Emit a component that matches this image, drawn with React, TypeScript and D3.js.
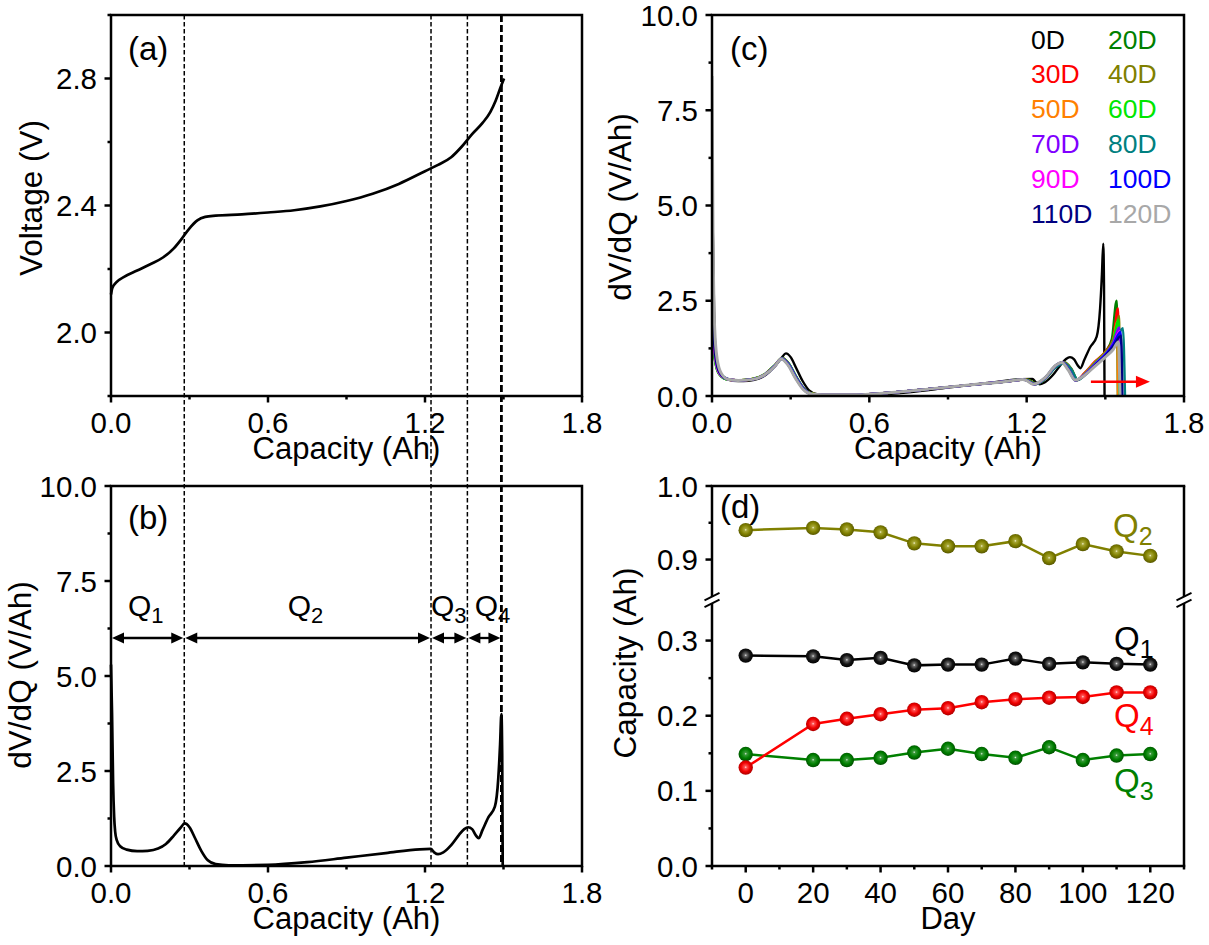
import React from 'react';
import * as d3 from 'd3';

const FONT = "'Liberation Sans', Arial, Helvetica, sans-serif";

// ---------- Panel (a): voltage curve ----------
const capA = [0, 0.005, 0.02, 0.05, 0.1, 0.15, 0.2, 0.24, 0.27, 0.3, 0.33, 0.36, 0.4, 0.5, 0.6, 0.7, 0.8, 0.9, 1.0, 1.1, 1.2, 1.25, 1.3, 1.34, 1.38, 1.42, 1.45, 1.47, 1.49, 1.502];
const voltA = [2.12, 2.14, 2.158, 2.175, 2.195, 2.215, 2.237, 2.265, 2.295, 2.328, 2.353, 2.364, 2.368, 2.372, 2.378, 2.385, 2.397, 2.414, 2.437, 2.468, 2.508, 2.528, 2.552, 2.585, 2.625, 2.66, 2.695, 2.73, 2.775, 2.8];

// ---------- dV/dQ curves (b) & (c) ----------
const d0D = [[0,5.3],[0.004,4.0],[0.008,2.2],[0.012,1.3],[0.016,0.9],[0.022,0.68],[0.035,0.52],[0.06,0.43],[0.1,0.39],[0.14,0.4],[0.18,0.46],[0.21,0.58],[0.24,0.8],[0.265,1.0],[0.282,1.12],[0.3,1.02],[0.32,0.75],[0.345,0.4],[0.37,0.15],[0.4,0.05],[0.45,0.02],[0.6,0.03],[0.75,0.1],[0.9,0.22],[1.05,0.34],[1.18,0.44],[1.222,0.45],[1.235,0.36],[1.25,0.31],[1.27,0.36],[1.3,0.55],[1.33,0.82],[1.35,0.97],[1.365,1.02],[1.38,0.97],[1.395,0.8],[1.405,0.73],[1.42,0.95],[1.442,1.28],[1.467,1.56],[1.48,2.3],[1.487,3.2],[1.492,4.0],[1.495,2.9],[1.497,0]];
const d20D = [[0,1.9],[0.006,1.25],[0.015,0.8],[0.03,0.55],[0.06,0.43],[0.1,0.41],[0.15,0.44],[0.2,0.57],[0.24,0.82],[0.268,1.0],[0.29,0.88],[0.32,0.52],[0.35,0.2],[0.38,0.06],[0.42,0.03],[0.55,0.03],[0.7,0.1],[0.85,0.2],[1.0,0.3],[1.12,0.38],[1.195,0.44],[1.21,0.42],[1.238,0.32],[1.27,0.45],[1.31,0.76],[1.345,0.88],[1.37,0.72],[1.395,0.42],[1.42,0.58],[1.46,0.88],[1.5,1.15],[1.525,1.5],[1.543,2.5],[1.548,0]];
const d30D = [[0,2.4],[0.006,1.5],[0.015,0.9],[0.03,0.58],[0.06,0.44],[0.1,0.41],[0.15,0.44],[0.2,0.56],[0.24,0.8],[0.267,0.99],[0.29,0.86],[0.32,0.5],[0.35,0.19],[0.38,0.06],[0.42,0.03],[0.55,0.03],[0.7,0.1],[0.85,0.2],[1.0,0.3],[1.12,0.38],[1.19,0.43],[1.205,0.42],[1.235,0.32],[1.27,0.46],[1.31,0.77],[1.342,0.88],[1.368,0.72],[1.393,0.42],[1.42,0.6],[1.46,0.9],[1.5,1.16],[1.53,1.5],[1.548,2.3],[1.552,0]];
const d40D = [[0,2.2],[0.006,1.4],[0.015,0.85],[0.03,0.56],[0.06,0.44],[0.1,0.41],[0.15,0.44],[0.2,0.56],[0.24,0.8],[0.268,0.99],[0.29,0.87],[0.32,0.51],[0.35,0.2],[0.38,0.06],[0.42,0.03],[0.55,0.03],[0.7,0.1],[0.85,0.2],[1.0,0.3],[1.12,0.38],[1.19,0.43],[1.205,0.42],[1.235,0.32],[1.27,0.45],[1.31,0.76],[1.342,0.87],[1.368,0.72],[1.392,0.42],[1.42,0.58],[1.46,0.88],[1.5,1.15],[1.53,1.45],[1.552,2.1],[1.556,0]];
const d50D = [[0,2.1],[0.006,1.35],[0.015,0.85],[0.03,0.57],[0.06,0.44],[0.1,0.4],[0.15,0.43],[0.2,0.56],[0.24,0.8],[0.267,0.99],[0.29,0.86],[0.32,0.5],[0.35,0.19],[0.38,0.06],[0.42,0.03],[0.55,0.03],[0.7,0.1],[0.85,0.2],[1.0,0.3],[1.12,0.38],[1.19,0.43],[1.205,0.41],[1.233,0.31],[1.27,0.46],[1.31,0.77],[1.34,0.87],[1.366,0.71],[1.39,0.42],[1.42,0.58],[1.46,0.87],[1.5,1.13],[1.53,1.45],[1.545,1.95],[1.548,0]];
const d60D = [[0,1.8],[0.006,1.2],[0.015,0.8],[0.03,0.55],[0.06,0.43],[0.1,0.41],[0.15,0.44],[0.2,0.56],[0.24,0.8],[0.267,0.99],[0.29,0.86],[0.32,0.5],[0.35,0.19],[0.38,0.06],[0.42,0.03],[0.55,0.03],[0.7,0.1],[0.85,0.2],[1.0,0.3],[1.12,0.38],[1.19,0.43],[1.205,0.41],[1.232,0.31],[1.27,0.45],[1.31,0.77],[1.34,0.88],[1.365,0.71],[1.39,0.41],[1.42,0.57],[1.46,0.86],[1.5,1.12],[1.53,1.45],[1.55,2.0],[1.554,0]];
const d70D = [[0,2.6],[0.006,1.55],[0.015,0.9],[0.03,0.58],[0.06,0.44],[0.1,0.41],[0.15,0.43],[0.2,0.55],[0.24,0.79],[0.266,0.98],[0.29,0.84],[0.32,0.48],[0.35,0.18],[0.38,0.05],[0.42,0.03],[0.55,0.03],[0.7,0.1],[0.85,0.2],[1.0,0.3],[1.12,0.38],[1.188,0.43],[1.2,0.41],[1.23,0.31],[1.27,0.47],[1.31,0.78],[1.338,0.88],[1.363,0.7],[1.388,0.41],[1.42,0.56],[1.46,0.84],[1.5,1.1],[1.53,1.4],[1.553,1.8],[1.557,0]];
const d80D = [[0,3.3],[0.007,1.9],[0.016,1.05],[0.03,0.62],[0.06,0.45],[0.1,0.41],[0.15,0.43],[0.2,0.55],[0.24,0.79],[0.268,0.98],[0.292,0.85],[0.322,0.49],[0.352,0.18],[0.382,0.05],[0.42,0.03],[0.55,0.03],[0.7,0.1],[0.85,0.2],[1.0,0.3],[1.12,0.38],[1.19,0.43],[1.205,0.41],[1.235,0.31],[1.27,0.45],[1.31,0.75],[1.342,0.86],[1.368,0.72],[1.395,0.42],[1.43,0.6],[1.47,0.88],[1.51,1.15],[1.54,1.42],[1.567,1.78],[1.575,0]];
const d90D = [[0,2.6],[0.006,1.5],[0.015,0.88],[0.03,0.57],[0.06,0.44],[0.1,0.41],[0.15,0.43],[0.2,0.55],[0.24,0.79],[0.266,0.98],[0.29,0.84],[0.32,0.48],[0.35,0.18],[0.38,0.05],[0.42,0.03],[0.55,0.03],[0.7,0.1],[0.85,0.2],[1.0,0.3],[1.12,0.38],[1.188,0.43],[1.2,0.41],[1.23,0.31],[1.27,0.47],[1.31,0.79],[1.336,0.89],[1.36,0.7],[1.386,0.41],[1.42,0.55],[1.46,0.82],[1.5,1.08],[1.53,1.35],[1.555,1.7],[1.56,0]];
const d100D = [[0,4.6],[0.005,2.4],[0.012,1.2],[0.025,0.68],[0.05,0.47],[0.09,0.41],[0.15,0.43],[0.2,0.55],[0.24,0.79],[0.266,0.98],[0.29,0.84],[0.32,0.48],[0.35,0.18],[0.38,0.05],[0.42,0.03],[0.55,0.03],[0.7,0.1],[0.85,0.2],[1.0,0.3],[1.12,0.38],[1.188,0.43],[1.2,0.41],[1.23,0.31],[1.27,0.47],[1.31,0.79],[1.336,0.88],[1.36,0.7],[1.386,0.41],[1.42,0.55],[1.46,0.82],[1.5,1.08],[1.53,1.35],[1.558,1.68],[1.562,0]];
const d110D = [[0,3.0],[0.006,1.7],[0.015,0.95],[0.03,0.6],[0.06,0.44],[0.1,0.41],[0.15,0.43],[0.2,0.55],[0.24,0.78],[0.265,0.97],[0.288,0.84],[0.318,0.48],[0.348,0.18],[0.378,0.05],[0.42,0.03],[0.55,0.03],[0.7,0.1],[0.85,0.2],[1.0,0.3],[1.12,0.38],[1.186,0.43],[1.2,0.41],[1.228,0.31],[1.27,0.48],[1.31,0.8],[1.335,0.88],[1.36,0.69],[1.385,0.41],[1.42,0.54],[1.46,0.8],[1.5,1.05],[1.53,1.3],[1.56,1.58],[1.565,0]];
const d120D = [[0,8.4],[0.004,4.2],[0.01,1.8],[0.02,0.95],[0.035,0.6],[0.06,0.44],[0.1,0.41],[0.15,0.43],[0.2,0.55],[0.24,0.78],[0.264,0.97],[0.288,0.83],[0.318,0.47],[0.348,0.17],[0.378,0.05],[0.42,0.03],[0.55,0.03],[0.7,0.1],[0.85,0.2],[1.0,0.3],[1.12,0.38],[1.185,0.43],[1.198,0.41],[1.226,0.31],[1.27,0.48],[1.31,0.8],[1.334,0.88],[1.358,0.69],[1.385,0.42],[1.42,0.54],[1.46,0.78],[1.5,1.02],[1.53,1.22],[1.55,1.42],[1.556,0]];

const seriesNames = ['0D', '20D', '30D', '40D', '50D', '60D', '70D', '80D', '90D', '100D', '110D', '120D'];
const seriesColors = ['#000000', '#008000', '#FF0000', '#808000', '#FF8000', '#00E600', '#8000FF', '#008080', '#FF00FF', '#0000FF', '#000080', '#A8A8A8'];
const seriesData = [d0D, d20D, d30D, d40D, d50D, d60D, d70D, d80D, d90D, d100D, d110D, d120D];

// Q-region boundaries (Ah) and arrow level (V/Ah)
const qBounds = [0, 0.28, 1.223, 1.362, 1.492];
const qArrowLevel = 6.0;
const qLabels = ['1', '2', '3', '4'];
const qLabelCaps = [0.065, 0.675, 1.223, 1.39];

// Red shift arrow in (c)
const shiftArrow = { from: 1.445, to: 1.67, level: 0.375 };

// ---------- Panel (d) ----------
const days = [0, 20, 30, 40, 50, 60, 70, 80, 90, 100, 110, 120];
const q1 = [0.280, 0.279, 0.274, 0.277, 0.267, 0.268, 0.268, 0.276, 0.269, 0.271, 0.269, 0.268];
const q2 = [0.940, 0.943, 0.941, 0.937, 0.922, 0.918, 0.918, 0.925, 0.902, 0.921, 0.911, 0.905];
const q3 = [0.149, 0.141, 0.141, 0.144, 0.151, 0.156, 0.149, 0.144, 0.158, 0.141, 0.147, 0.149];
const q4 = [0.131, 0.189, 0.196, 0.202, 0.208, 0.210, 0.218, 0.222, 0.224, 0.225, 0.231, 0.231];

// ---------- ticks ----------
const capMajor = [0, 0.6, 1.2, 1.8];
const capMinor = [0.3, 0.9, 1.5];
const voltMajor = [2.0, 2.4, 2.8];
const voltMinor = [1.8, 2.2, 2.6, 3.0];
const dvdqMajor = [0, 2.5, 5, 7.5, 10];
const dvdqMinor = [1.25, 3.75, 6.25, 8.75];
const dayMajor = [0, 20, 40, 60, 80, 100, 120];
const dayMinor = [-10, 10, 30, 50, 70, 90, 110, 130];
const capDLowMajor = [0, 0.1, 0.2, 0.3];
const capDLowMinor = [0.05, 0.15, 0.25];
const capDUpMajor = [0.9, 1.0];
const capDUpMinor = [0.95];

// ---------- layout ----------
const PA = { x0: 111, x1: 582, y0: 15, y1: 396 };
const PB = { x0: 111, x1: 582, y0: 486, y1: 866 };
const PC = { x0: 712, x1: 1184, y0: 15, y1: 396 };
const PD = { x0: 712, x1: 1184, y0: 486, y1: 866 };
const YBREAK = 600;

const xA = d3.scaleLinear().domain([0, 1.8]).range([PA.x0, PA.x1]);
const yA = d3.scaleLinear().domain([1.8, 3.0]).range([PA.y1, PA.y0]);
const yB = d3.scaleLinear().domain([0, 10]).range([PB.y1, PB.y0]);
const xC = d3.scaleLinear().domain([0, 1.8]).range([PC.x0, PC.x1]);
const yC = d3.scaleLinear().domain([0, 10]).range([PC.y1, PC.y0]);
const xD = d3.scaleLinear().domain([-10, 130]).range([PD.x0, PD.x1]);
const yDlow = d3.scaleLinear().domain([0, 0.354]).range([PD.y1, YBREAK]);
const yDup = d3.scaleLinear().domain([0.845, 1.0]).range([YBREAK, PD.y0]);

const TICK_MAJ = 6.5, TICK_MIN = 3.5, AXW = 2.5;
const TICKFS = 29.5, TITLEFS = 31;
const f1 = d3.format('.1f');

function XAxis({ scale, major, minor, y, fmt }: any) {
  return (
    <g>
      {major.map((v: number) => (
        <g key={'M' + v}>
          <line x1={scale(v)} x2={scale(v)} y1={y} y2={y + TICK_MAJ} stroke="#000" strokeWidth={AXW} />
          <text x={scale(v)} y={y + 36.5} textAnchor="middle" fontSize={TICKFS} fontFamily={FONT}>{fmt(v)}</text>
        </g>
      ))}
      {minor.map((v: number) => (
        <line key={'m' + v} x1={scale(v)} x2={scale(v)} y1={y} y2={y + TICK_MIN} stroke="#000" strokeWidth={AXW} />
      ))}
    </g>
  );
}

function YAxis({ scale, major, minor, x, fmt }: any) {
  return (
    <g>
      {major.map((v: number) => (
        <g key={'M' + v}>
          <line x1={x} x2={x - TICK_MAJ} y1={scale(v)} y2={scale(v)} stroke="#000" strokeWidth={AXW} />
          <text x={x - 14} y={scale(v) + 10.6} textAnchor="end" fontSize={TICKFS} fontFamily={FONT}>{fmt(v)}</text>
        </g>
      ))}
      {minor.map((v: number) => (
        <line key={'m' + v} x1={x} x2={x - TICK_MIN} y1={scale(v)} y2={scale(v)} stroke="#000" strokeWidth={AXW} />
      ))}
    </g>
  );
}

function Frame({ p }: any) {
  return <rect x={p.x0} y={p.y0} width={p.x1 - p.x0} height={p.y1 - p.y0} fill="none" stroke="#000" strokeWidth={AXW} />;
}

function YTitle({ x, y, children }: any) {
  return (
    <text transform={`translate(${x},${y}) rotate(-90)`} textAnchor="middle" fontSize={TITLEFS + 0.5} fontFamily={FONT}>{children}</text>
  );
}

function XTitle({ x, y, children }: any) {
  return <text x={x} y={y} textAnchor="middle" fontSize={TITLEFS} fontFamily={FONT}>{children}</text>;
}

function PanelLabel({ x, y, children }: any) {
  return <text x={x} y={y} fontSize={33} fontFamily={FONT}>{children}</text>;
}

function QLabel({ x, y, sub, size, subSize, fill, anchor }: any) {
  return (
    <text x={x} y={y} fontSize={size} fontFamily={FONT} fill={fill} textAnchor={anchor || 'start'}>
      Q<tspan fontSize={subSize} dy={size * 0.24}>{sub}</tspan>
    </text>
  );
}

function arrowHead(tipX: number, tipY: number, dir: number, len: number, half: number) {
  return `M${tipX},${tipY} L${tipX - dir * len},${tipY - half} L${tipX - dir * len},${tipY + half} Z`;
}

function BreakMarks({ x, y }: any) {
  const dx = 7.5, dy = 3.8, off = 3.4;
  return (
    <g stroke="#000" strokeWidth={2}>
      <line x1={x - dx} y1={y - off + dy} x2={x + dx} y2={y - off - dy} />
      <line x1={x - dx} y1={y + off + dy} x2={x + dx} y2={y + off - dy} />
    </g>
  );
}

const gradientDefs = [
  { id: 'gBlack', stops: ['#e8e8e8', '#6a6a6a', '#151515', '#000000'] },
  { id: 'gOlive', stops: ['#f6f6d8', '#a8a838', '#808000', '#555500'] },
  { id: 'gRed', stops: ['#ffe0e0', '#ff5050', '#f00000', '#a80000'] },
  { id: 'gGreen', stops: ['#e0f4e0', '#3a9a3a', '#008000', '#004c00'] },
];

export default function App() {
  const lineA = d3.line<number>().x((_, i) => xA(capA[i])).y((v) => yA(v)).curve(d3.curveMonotoneX);
  const lineB = d3.line<number[]>().x((d) => xA(d[0])).y((d) => yB(d[1])).curve(d3.curveMonotoneX);
  const lineC = d3.line<number[]>().x((d) => xC(d[0])).y((d) => yC(d[1])).curve(d3.curveMonotoneX);
  const lineDlow = (vals: number[]) => d3.line<number>().x((_, i) => xD(days[i])).y((v) => yDlow(v))(vals) as string;
  const lineDup = (vals: number[]) => d3.line<number>().x((_, i) => xD(days[i])).y((v) => yDup(v))(vals) as string;

  const dSeries = [
    { vals: q2, color: '#808000', grad: 'gOlive', up: true },
    { vals: q1, color: '#000000', grad: 'gBlack', up: false },
    { vals: q3, color: '#008000', grad: 'gGreen', up: false },
    { vals: q4, color: '#FF0000', grad: 'gRed', up: false },
  ];

  const arrowY = yB(qArrowLevel);
  const legendRows = [49, 83, 118, 153, 188, 223];

  return (
    <svg width={1209} height={945} style={{ position: 'absolute', left: 0, top: 0, background: '#fff' }}>
      <defs>
        {gradientDefs.map((g) => (
          <radialGradient key={g.id} id={g.id} cx="48%" cy="46%" r="55%" fx="50%" fy="48%">
            <stop offset="0%" stopColor={g.stops[0]} />
            <stop offset="16%" stopColor={g.stops[1]} />
            <stop offset="58%" stopColor={g.stops[2]} />
            <stop offset="100%" stopColor={g.stops[3]} />
          </radialGradient>
        ))}
        <clipPath id="clipC"><rect x={PC.x0} y={PC.y0} width={PC.x1 - PC.x0} height={PC.y1 - PC.y0} /></clipPath>
      </defs>
      <rect x={0} y={0} width={1209} height={945} fill="#fff" />

      {/* ---------- Panel (a) ---------- */}
      <path d={lineA(voltA) as string} fill="none" stroke="#000" strokeWidth={2.7} />
      <XAxis scale={xA} major={capMajor} minor={capMinor} y={PA.y1} fmt={f1} />
      <YAxis scale={yA} major={voltMajor} minor={voltMinor} x={PA.x0} fmt={f1} />
      <Frame p={PA} />
      <PanelLabel x={128} y={60}>(a)</PanelLabel>
      <YTitle x={42} y={198}>Voltage (V)</YTitle>
      <XTitle x={(PA.x0 + PA.x1) / 2} y={PA.y1 + 63}>Capacity (Ah)</XTitle>

      {/* ---------- Panel (b) ---------- */}
      <path d={lineB(d0D) as string} fill="none" stroke="#000" strokeWidth={2.7} />
      <XAxis scale={xA} major={capMajor} minor={capMinor} y={PB.y1} fmt={f1} />
      <YAxis scale={yB} major={dvdqMajor} minor={dvdqMinor} x={PB.x0} fmt={f1} />
      <Frame p={PB} />
      <PanelLabel x={128} y={529}>(b)</PanelLabel>
      <YTitle x={31} y={675}>dV/dQ (V/Ah)</YTitle>
      <XTitle x={(PB.x0 + PB.x1) / 2} y={PB.y1 + 63}>Capacity (Ah)</XTitle>

      {/* boundary dashed lines spanning (a) and (b) */}
      {qBounds.slice(1).map((q, i) => {
        const last = i === qBounds.length - 2;
        return (
          <line key={'dash' + q} x1={xA(q)} x2={xA(q)} y1={PA.y0} y2={PB.y1} stroke="#000"
            strokeWidth={last ? 2.8 : 1.5} strokeDasharray={last ? '7 3' : '4.5 2.5'} />
        );
      })}

      {/* double arrows */}
      {qBounds.slice(0, -1).map((q, i) => {
        const xs = xA(q), xe = xA(qBounds[i + 1]);
        return (
          <g key={'arr' + i}>
            <line x1={xs + 8} x2={xe - 8} y1={arrowY} y2={arrowY} stroke="#000" strokeWidth={2.3} />
            <path d={arrowHead(xs + 1, arrowY, -1, 12, 5.5)} fill="#000" />
            <path d={arrowHead(xe - 1, arrowY, 1, 12, 5.5)} fill="#000" />
          </g>
        );
      })}
      {qLabelCaps.map((c, i) => (
        <QLabel key={'ql' + i} x={xA(c)} y={616} sub={qLabels[i]} size={30} subSize={22} fill="#000" />
      ))}

      {/* ---------- Panel (c) ---------- */}
      <g clipPath="url(#clipC)">
        {seriesData.map((s, i) => (
          <path key={'c' + i} d={lineC(s) as string} fill="none" stroke={seriesColors[i]} strokeWidth={i === 11 ? 3 : 2.4} />
        ))}
      </g>
      <line x1={xC(shiftArrow.from)} x2={xC(shiftArrow.to) - 10} y1={yC(shiftArrow.level)} y2={yC(shiftArrow.level)} stroke="#FF0000" strokeWidth={2.6} />
      <path d={arrowHead(xC(shiftArrow.to), yC(shiftArrow.level), 1, 14, 6)} fill="#FF0000" />
      <XAxis scale={xC} major={capMajor} minor={capMinor} y={PC.y1} fmt={f1} />
      <YAxis scale={yC} major={dvdqMajor} minor={dvdqMinor} x={PC.x0} fmt={f1} />
      <Frame p={PC} />
      <PanelLabel x={730} y={60}>(c)</PanelLabel>
      <YTitle x={631} y={207}>dV/dQ (V/Ah)</YTitle>
      <XTitle x={(PC.x0 + PC.x1) / 2} y={PC.y1 + 63}>Capacity (Ah)</XTitle>
      {seriesNames.map((n, i) => (
        <text key={'lg' + n} x={i % 2 === 0 ? 1031 : 1108} y={legendRows[Math.floor(i / 2)]} fontSize={26.5} fontFamily={FONT} fill={seriesColors[i]}>{n}</text>
      ))}

      {/* ---------- Panel (d) ---------- */}
      {dSeries.map((s, i) => (
        <g key={'d' + i}>
          <path d={s.up ? lineDup(s.vals) : lineDlow(s.vals)} fill="none" stroke={s.color} strokeWidth={2.5} />
          {s.vals.map((v, j) => (
            <circle key={j} cx={xD(days[j])} cy={s.up ? yDup(v) : yDlow(v)} r={7.2} fill={`url(#${s.grad})`} />
          ))}
        </g>
      ))}
      <XAxis scale={xD} major={dayMajor} minor={dayMinor} y={PD.y1} fmt={(v: number) => String(v)} />
      <YAxis scale={yDlow} major={capDLowMajor} minor={capDLowMinor} x={PD.x0} fmt={f1} />
      <YAxis scale={yDup} major={capDUpMajor} minor={capDUpMinor} x={PD.x0} fmt={f1} />
      {/* frame with broken verticals */}
      <g stroke="#000" strokeWidth={AXW}>
        <line x1={PD.x0 - 1.25} x2={PD.x1 + 1.25} y1={PD.y0} y2={PD.y0} />
        <line x1={PD.x0 - 1.25} x2={PD.x1 + 1.25} y1={PD.y1} y2={PD.y1} />
        <line x1={PD.x0} x2={PD.x0} y1={PD.y0} y2={YBREAK - 3} />
        <line x1={PD.x0} x2={PD.x0} y1={YBREAK + 3} y2={PD.y1} />
        <line x1={PD.x1} x2={PD.x1} y1={PD.y0} y2={YBREAK - 3} />
        <line x1={PD.x1} x2={PD.x1} y1={YBREAK + 3} y2={PD.y1} />
      </g>
      <BreakMarks x={PD.x0} y={YBREAK} />
      <BreakMarks x={PD.x1} y={YBREAK} />
      <PanelLabel x={720} y={518}>(d)</PanelLabel>
      <YTitle x={636} y={663}>Capacity (Ah)</YTitle>
      <XTitle x={(PD.x0 + PD.x1) / 2} y={PD.y1 + 63}>Day</XTitle>
      <QLabel x={1113} y={537} sub="2" size={33} subSize={25} fill="#808000" />
      <QLabel x={1114} y={650} sub="1" size={33} subSize={25} fill="#000000" />
      <QLabel x={1114} y={727} sub="4" size={33} subSize={25} fill="#FF0000" />
      <QLabel x={1114} y={792} sub="3" size={33} subSize={25} fill="#008000" />
    </svg>
  );
}
